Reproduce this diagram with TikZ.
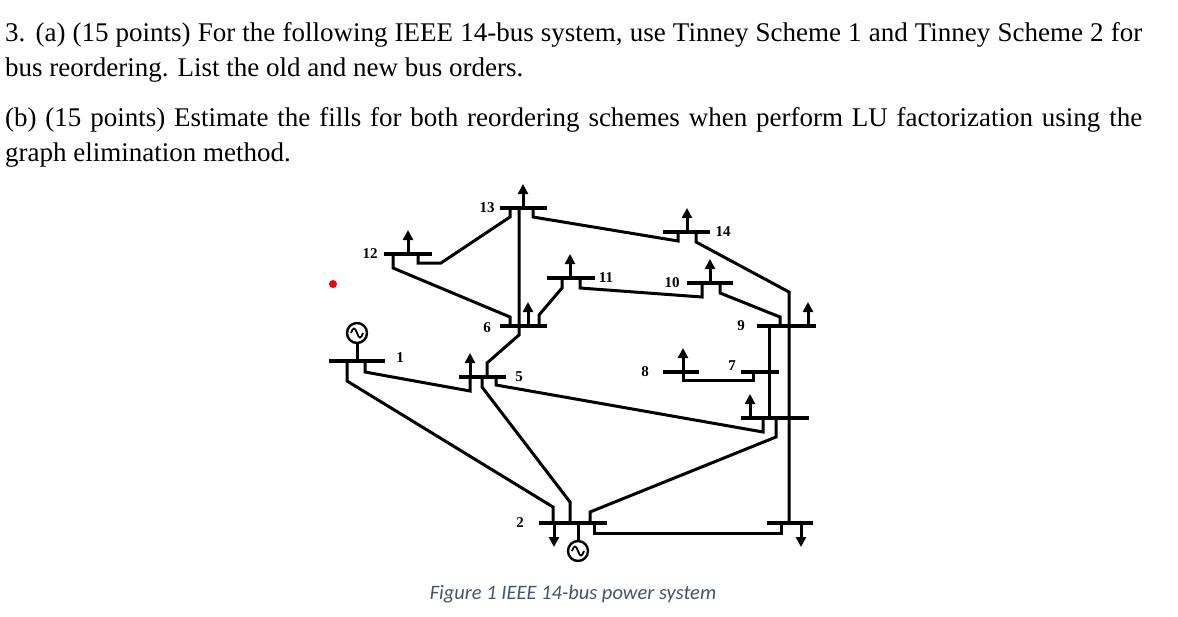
\documentclass[tikz,border=0pt]{standalone}
\usepackage{fontspec}
\setmainfont{Liberation Serif}
\newfontfamily\capfont{Carlito}
\usetikzlibrary{arrows.meta}
\definecolor{capcol}{HTML}{44546A}
\begin{document}
\begin{tikzpicture}[x=1pt,y=-1pt,
  ln/.style={line width=3pt,line join=miter,line cap=butt},
  bus/.style={line width=3.2pt},
  ld/.style={line width=3pt,-{Triangle[length=10pt,width=10pt]}},
  lbl/.style={font=\fontsize{15}{15}\selectfont\bfseries,inner sep=0pt},
  gen/.style={circle,draw,line width=2.4pt,minimum size=20pt,inner sep=0pt}]
\useasboundingbox (0,0) rectangle (1178,616);
\node[anchor=north west,text width=1137pt,align=justify,inner sep=0pt,font=\fontsize{27}{35}\selectfont] (ta) at (5,22)
 {3. (a) (15 points) For the following IEEE 14-bus system, use Tinney Scheme 1 and Tinney Scheme 2 for\linebreak bus reordering. List the old and new bus orders.};
\node[anchor=north west,text width=1137pt,align=justify,inner sep=0pt,font=\fontsize{27}{35}\selectfont] (tb) at (5,107)
 {(b) (15 points) Estimate the fills for both reordering schemes when perform LU factorization using the\linebreak graph elimination method.};
\node[font=\capfont\itshape\fontsize{20.5}{20.5}\selectfont,text=capcol] (cap) at (573,594) {Figure 1 IEEE 14-bus power system};
\fill[red] (333,284) circle (4);
% buses
\draw[bus] (329,361) -- (385,361); \node[lbl] (l1) at (400,358) {1};
\draw[bus] (539,523) -- (607,523); \node[lbl] (l2) at (520,523) {2};
\draw[bus] (767,523) -- (813,523);
\draw[bus] (741,418) -- (809,418);
\draw[bus] (459,377) -- (506,377); \node[lbl] (l5) at (519,377) {5};
\draw[bus] (500,326) -- (547,326); \node[lbl] (l6) at (487,328) {6};
\draw[bus] (741,372) -- (779,372); \node[lbl] (l7) at (732,366) {7};
\draw[bus] (663,372) -- (699,372); \node[lbl] (l8) at (645,372) {8};
\draw[bus] (757,326) -- (816,326); \node[lbl] (l9) at (741,326) {9};
\draw[bus] (687,283) -- (733,283); \node[lbl] (l10) at (672,283) {10};
\draw[bus] (547,278) -- (595,278); \node[lbl] (l11) at (606,278) {11};
\draw[bus] (384,254) -- (432,254); \node[lbl] (l12) at (370,254) {12};
\draw[bus] (500,208) -- (547,208); \node[lbl] (l13) at (487,208) {13};
\draw[bus] (663,232) -- (710,232); \node[lbl] (l14) at (723,232) {14};
% loads
\foreach \x/\y in {523/208,687/232,570/278,710/283,408/254,528/326,808/326,683/372,750/418,470/377}
  \draw[ld] (\x,\y) -- (\x,\y-24);
\draw[ld] (554,523) -- (554,547);
\draw[ld] (801,523) -- (801,547);
% generators
\node[gen] (g1) at (357,333) {}; \draw[ln] (g1.south) -- (357,361);
\draw[line width=1.8pt] (351,333) .. controls (353,327) and (355,327) .. (357,333) .. controls (359,339) and (361,339) .. (363,333);
\node[gen] (g2) at (578,551) {}; \draw[ln] (g2.north) -- (578,523);
\draw[line width=1.8pt] (572,551) .. controls (574,545) and (576,545) .. (578,551) .. controls (580,557) and (582,557) .. (584,551);
% lines
\draw[ln] (533,208) -- (533,217) -- (678,241) -- (678,232);
\draw[ln] (510,208) -- (510,217) -- (441,263) -- (418,263) -- (418,254);
\draw[ln] (393,254) -- (393,268) -- (510,317) -- (510,326);
\draw[ln] (519,208) -- (519,335) -- (487,363) -- (487,377);
\draw[ln] (539,326) -- (539,315) -- (562,288) -- (562,278);
\draw[ln] (580,278) -- (580,288) -- (702,297) -- (702,283);
\draw[ln] (720,283) -- (720,293) -- (780,317) -- (780,326);
\draw[ln] (696,232) -- (696,242) -- (789,292) -- (789,523);
\draw[ln] (769,326) -- (769,418);
\draw[ln] (753,372) -- (753,380) -- (683,380) -- (683,372);
\draw[ln] (496,377) -- (496,385) -- (763,432) -- (763,418);
\draw[ln] (776,418) -- (776,437) -- (590,512) -- (590,523);
\draw[ln] (470,377) -- (470,391) -- (365,372) -- (365,361);
\draw[ln] (347,361) -- (347,381) -- (553,507) -- (553,523);
\draw[ln] (482,377) -- (482,387) -- (570,502) -- (570,523);
\draw[ln] (594,523) -- (594,533) -- (781,533) -- (781,523);
\end{tikzpicture}
\end{document}
